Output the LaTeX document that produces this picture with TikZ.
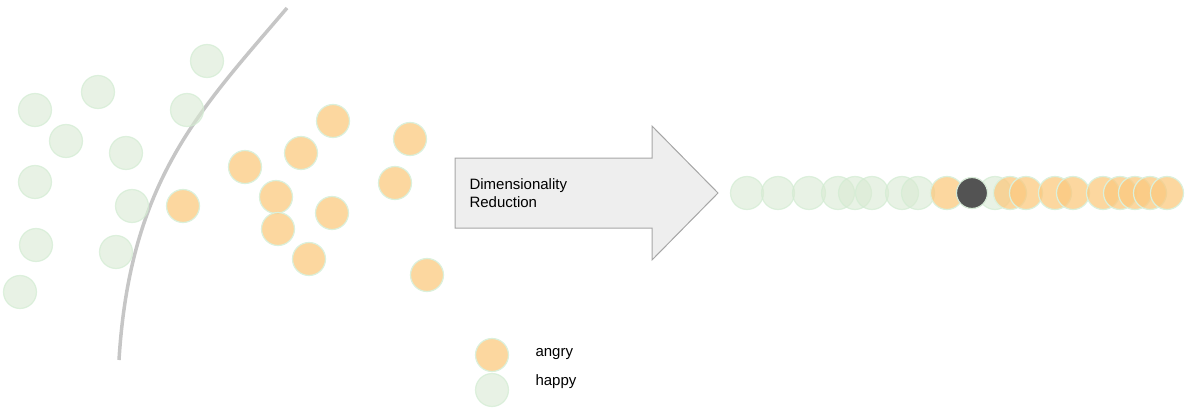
\documentclass[tikz,border=0pt]{standalone}
\usepackage{fontspec}
\setmainfont{Liberation Sans}
\begin{document}
\begin{tikzpicture}[x=1pt,y=-1pt,
  gdot/.style={circle,minimum size=33pt,inner sep=0pt,fill=green!45!gray!18,fill opacity=0.6,draw=green!40!gray!25,line width=1.2pt,draw opacity=0.7},
  odot/.style={circle,minimum size=33pt,inner sep=0pt,fill=orange!55,fill opacity=0.75,draw=green!40!gray!20,line width=1.2pt},
  lbl/.style={font=\fontsize{15pt}{18pt}\selectfont,anchor=west}]
\useasboundingbox (0,0) rectangle (1200,420);
\definecolor{gfill}{HTML}{D9EAD3}
\definecolor{ofill}{HTML}{FBC97F}
\tikzset{gdot/.append style={fill=gfill},odot/.append style={fill=ofill}}
\draw[line width=3.5pt,gray!45] (287,8) .. controls (200,110) and (130,180) .. (119,360);
\foreach \x/\y [count=\i] in {207/61,98/92,35/110,187/110,66/141,126/153,35/182,132/206,36/245,116/252,20/292}
  \node[gdot] (g\i) at (\x,\y) {};
\foreach \x/\y [count=\i] in {333/121,410/139,301/153,245/167,395/183,276/197,183/206,332/213,278/229,309/259,427/275}
  \node[odot] (o\i) at (\x,\y) {};
\draw[gray!70,fill=gray!13,line width=1pt] (455,158) -- (652,158) -- (652,126) -- (718,193) -- (652,260) -- (652,228) -- (455,228) -- cycle;
\node[lbl,align=left] (t) at (466,193) {Dimensionality\\Reduction};
\foreach \x [count=\i] in {747,778,809,838,855,872,902,918,995}
  \node[gdot] (rg\i) at (\x,193) {};
\foreach \x [count=\i] in {947,1010,1026,1055,1073,1103,1120,1135,1150,1167}
  \node[odot] (ro\i) at (\x,193) {};
\node[circle,minimum size=31pt,inner sep=0pt,fill=gray!20!black!75,draw=green!30!gray!25,line width=1.2pt] (dk) at (972,193) {};
\node[odot] (lo) at (492,355) {};
\node[gdot] (lg) at (492,390) {};
\node[lbl] (la) at (532,354) {angry};
\node[lbl] (lh) at (532,382) {happy};
\end{tikzpicture}
\end{document}
